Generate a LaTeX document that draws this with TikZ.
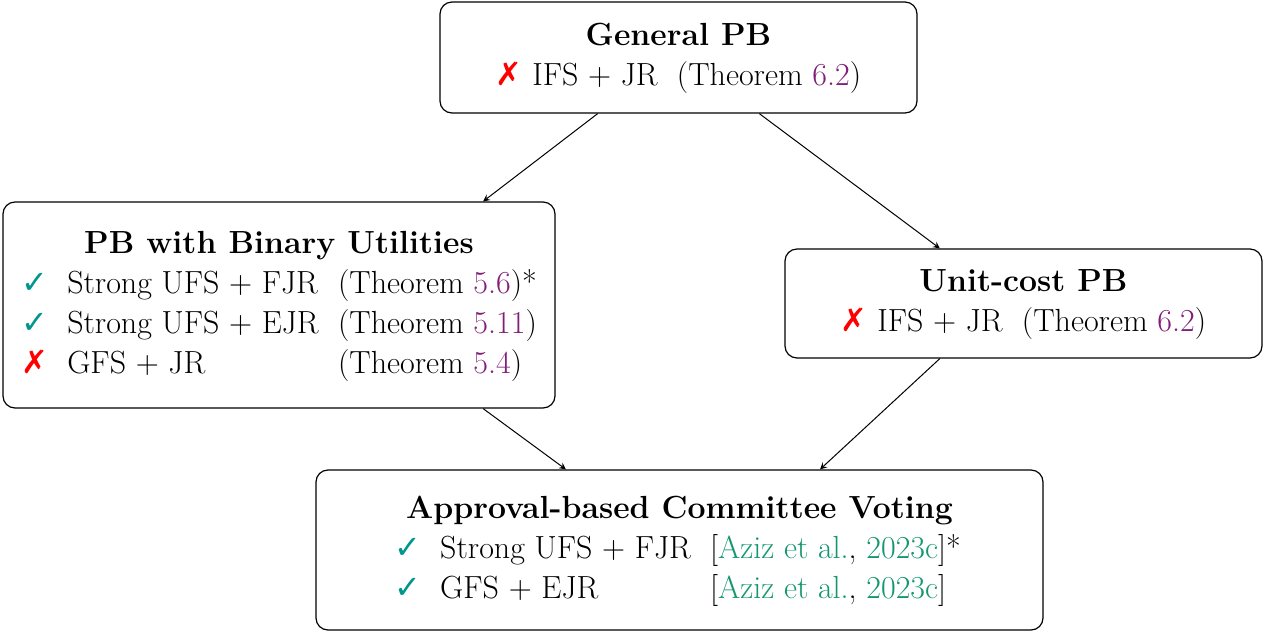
\documentclass[tikz,border=0pt]{standalone}
\usepackage{fontspec}
\newfontfamily\sym{DejaVu Sans}
\usetikzlibrary{calc}
\definecolor{refpurple}{RGB}{128,30,120}
\definecolor{citegreen}{RGB}{20,150,110}
\definecolor{tickteal}{RGB}{0,150,140}
\newcommand{\yes}{{\color{tickteal}\sym ✓}}
\newcommand{\no}{{\color{red}\sym ✗}}
\begin{document}
\begin{tikzpicture}[x=0.5pt,y=-0.5pt,
  box/.style={draw,rounded corners=6pt,line width=0.6pt,inner sep=0pt,font=\fontsize{16}{20}\selectfont},
  arr/.style={-stealth,line width=0.5pt}]
\useasboundingbox (0,0) rectangle (1266,634);
\node[box,minimum width=238.5pt,minimum height=55.5pt] (gen) at (678.5,57.5) {\begin{tabular}{c}\textbf{General PB}\\ \no\ IFS + JR\ \ (Theorem {\color{refpurple}6.2})\end{tabular}};
\node[box,minimum width=276pt,minimum height=103pt] (bin) at (279,305) {\begin{tabular}{@{}l@{\ \ }l@{\ \ }l@{}}\multicolumn{3}{c}{\textbf{PB with Binary Utilities}}\\
\yes & Strong UFS + FJR & (Theorem {\color{refpurple}5.6})*\\
\yes & Strong UFS + EJR & (Theorem {\color{refpurple}5.11})\\
\no & GFS + JR & (Theorem {\color{refpurple}5.4})\end{tabular}};
\node[box,minimum width=238.5pt,minimum height=54.5pt] (unit) at (1023.5,303.5) {\begin{tabular}{c}\textbf{Unit-cost PB}\\ \no\ IFS + JR\ \ (Theorem {\color{refpurple}6.2})\end{tabular}};
\node[box,minimum width=363.5pt,minimum height=80pt] (app) at (679.5,550) {\begin{tabular}{@{}l@{\ \ }l@{\ \ }l@{}}\multicolumn{3}{c}{\textbf{Approval-based Committee Voting}}\\
\yes & Strong UFS + FJR & [{\color{citegreen}Aziz et al.}, {\color{citegreen}2023c}]*\\
\yes & GFS + EJR & [{\color{citegreen}Aziz et al.}, {\color{citegreen}2023c}]\end{tabular}};
\draw[arr] ($(gen.south west)!0.331!(gen.south east)$) -- ($(bin.north west)!0.869!(bin.north east)$);
\draw[arr] ($(gen.south west)!0.669!(gen.south east)$) -- ($(unit.north west)!0.325!(unit.north east)$);
\draw[arr] ($(bin.south west)!0.869!(bin.south east)$) -- ($(app.north west)!0.344!(app.north east)$);
\draw[arr] ($(unit.south west)!0.325!(unit.south east)$) -- ($(app.north west)!0.693!(app.north east)$);
\end{tikzpicture}
\end{document}
